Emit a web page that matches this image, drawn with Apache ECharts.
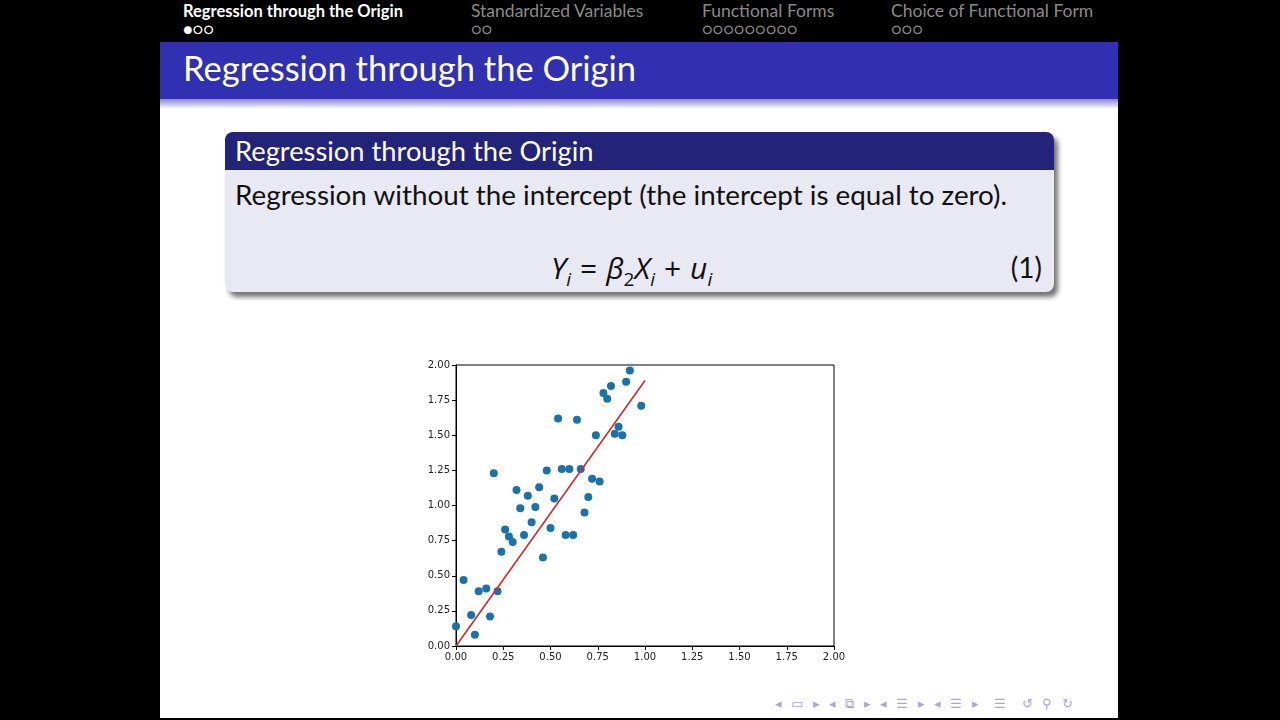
<!DOCTYPE html>
<html>
<head>
<meta charset="utf-8">
<script src="https://cdn.jsdelivr.net/npm/echarts@6/dist/echarts.min.js"></script>
<style>
  html, body { margin: 0; padding: 0; background: #000; }
  #slide { position: absolute; left: 160px; top: 0; width: 958px; height: 718px; background: #fff; overflow: hidden; font-family: Lato, "Open Sans", sans-serif; }
  #nav { position: absolute; left: 0; top: 0; width: 958px; height: 42px; background: #000; }
  .navitem { position: absolute; top: 0px; font-size: 17.5px; color: #8a8a8a; white-space: nowrap; line-height: 22px; }
  .navitem .dots { display: block; font-size: 16px; line-height: 14px; margin-top: 0px; }
  .navitem.active { color: #fff; font-size: 16.5px; font-weight: bold; }
  .navitem.active .dots { font-weight: normal; }
  #titlebar { position: absolute; left: 0; top: 42px; width: 958px; height: 57px; background: #3030b0; }
  #titleshadow { position: absolute; left: 0; top: 99px; width: 958px; height: 10px; background: linear-gradient(#8888c8, #ffffff); }
  #title { position: absolute; left: 23px; top: 47px; font-size: 34.5px; color: #fff; white-space: nowrap; }
  #block { position: absolute; left: 65px; top: 132px; width: 829px; height: 160px; border-radius: 8px; box-shadow: 4px 5px 5px rgba(0,0,0,0.55); background: #e9e9f3; overflow: hidden; }
  #blockhead { position: absolute; left: 0; top: 0; width: 829px; height: 38px; background: #23237a; }
  #blockheadtext { position: absolute; left: 10px; top: 2px; font-size: 27.3px; color: #fff; white-space: nowrap; }
  #blocktext { position: absolute; left: 10px; top: 46px; font-size: 27.8px; color: #111; white-space: nowrap; }
  #eq { position: absolute; left: 326px; top: 115px; font-size: 30px; color: #111; font-family: "Open Sans", sans-serif; font-style: italic; white-space: nowrap; }
  #eq sub { font-size: 19px; }
  #eq .op { font-style: normal; margin: 0 9px; }
  #eqnum { position: absolute; right: 12px; top: 118px; font-size: 28px; color: #111; }
  #chart { position: absolute; left: 240px; top: 340px; width: 480px; height: 340px; }
  #bottomnav { position: absolute; left: 615px; top: 695px; font-size: 13px; color: #a8a8d8; white-space: nowrap; letter-spacing: 3px; }
</style>
</head>
<body>
<div id="slide">
  <div id="nav">
    <div class="navitem active" style="left:23px">Regression through the Origin<span class="dots">●○○</span></div>
    <div class="navitem" style="left:311px">Standardized Variables<span class="dots">○○</span></div>
    <div class="navitem" style="left:542px">Functional Forms<span class="dots">○○○○○○○○○</span></div>
    <div class="navitem" style="left:731px">Choice of Functional Form<span class="dots">○○○</span></div>
  </div>
  <div id="titlebar"></div>
  <div id="titleshadow"></div>
  <div id="title">Regression through the Origin</div>
  <div id="block">
    <div id="blockhead"><div id="blockheadtext">Regression through the Origin</div></div>
    <div id="blocktext">Regression without the intercept (the intercept is equal to zero).</div>
    <div id="eq">Y<sub>i</sub><span class="op">=</span>β<sub style="font-style:normal">2</sub>X<sub>i</sub><span class="op">+</span>u<sub>i</sub></div>
    <div id="eqnum">(1)</div>
  </div>
  <div id="chart"></div>
  <div id="bottomnav">◂ ▭ ▸ ◂ ⧉ ▸ ◂ ☰ ▸ ◂ ☰ ▸ &nbsp;☰ &nbsp;↺ ⚲ ↻</div>
</div>
<script>
// Scatter data
const xValues = [0.00,0.04,0.08,0.10,0.12,0.16,0.18,0.20,0.22,0.24,0.26,0.28,0.30,0.32,0.34,0.36,0.38,0.40,0.42,0.44,0.46,0.48,0.50,0.52,0.54,0.56,0.58,0.60,0.62,0.64,0.66,0.68,0.70,0.72,0.74,0.76,0.78,0.80,0.82,0.84,0.86,0.88,0.90,0.92,0.98];
const yValues = [0.14,0.47,0.22,0.08,0.39,0.41,0.21,1.23,0.39,0.67,0.83,0.78,0.74,1.11,0.98,0.79,1.07,0.88,0.99,1.13,0.63,1.25,0.84,1.05,1.62,1.26,0.79,1.26,0.79,1.61,1.26,0.95,1.06,1.19,1.50,1.17,1.80,1.76,1.85,1.51,1.56,1.50,1.88,1.96,1.71];
// Fitted line endpoints
const lineX = [0.00, 1.00];
const lineY = [0.00, 1.89];

const chart = echarts.init(document.getElementById('chart'));
const axisCommon = {
  type: 'value', min: 0, max: 2, interval: 0.25,
  axisLine: { show: true, lineStyle: { color: '#000', width: 1 } },
  axisTick: { show: true, length: 4, lineStyle: { color: '#000' } },
  axisLabel: { fontSize: 10, color: '#222', fontFamily: 'DejaVu Sans', margin: 6, formatter: v => v.toFixed(2) },
  splitLine: { show: false }
};
chart.setOption({
  animation: false,
  grid: { left: 56, top: 25, width: 378, height: 281, show: true, borderColor: '#000', borderWidth: 1, backgroundColor: '#fff' },
  xAxis: Object.assign({}, axisCommon),
  yAxis: Object.assign({}, axisCommon),
  series: [
    {
      type: 'scatter',
      data: xValues.map((x, i) => [x, yValues[i]]),
      symbolSize: 8,
      itemStyle: { color: '#1a72a8', opacity: 1 }
    },
    {
      type: 'line',
      data: lineX.map((x, i) => [x, lineY[i]]),
      symbol: 'none',
      lineStyle: { color: '#d62728', width: 1.6 }
    }
  ]
});
</script>
</body>
</html>
